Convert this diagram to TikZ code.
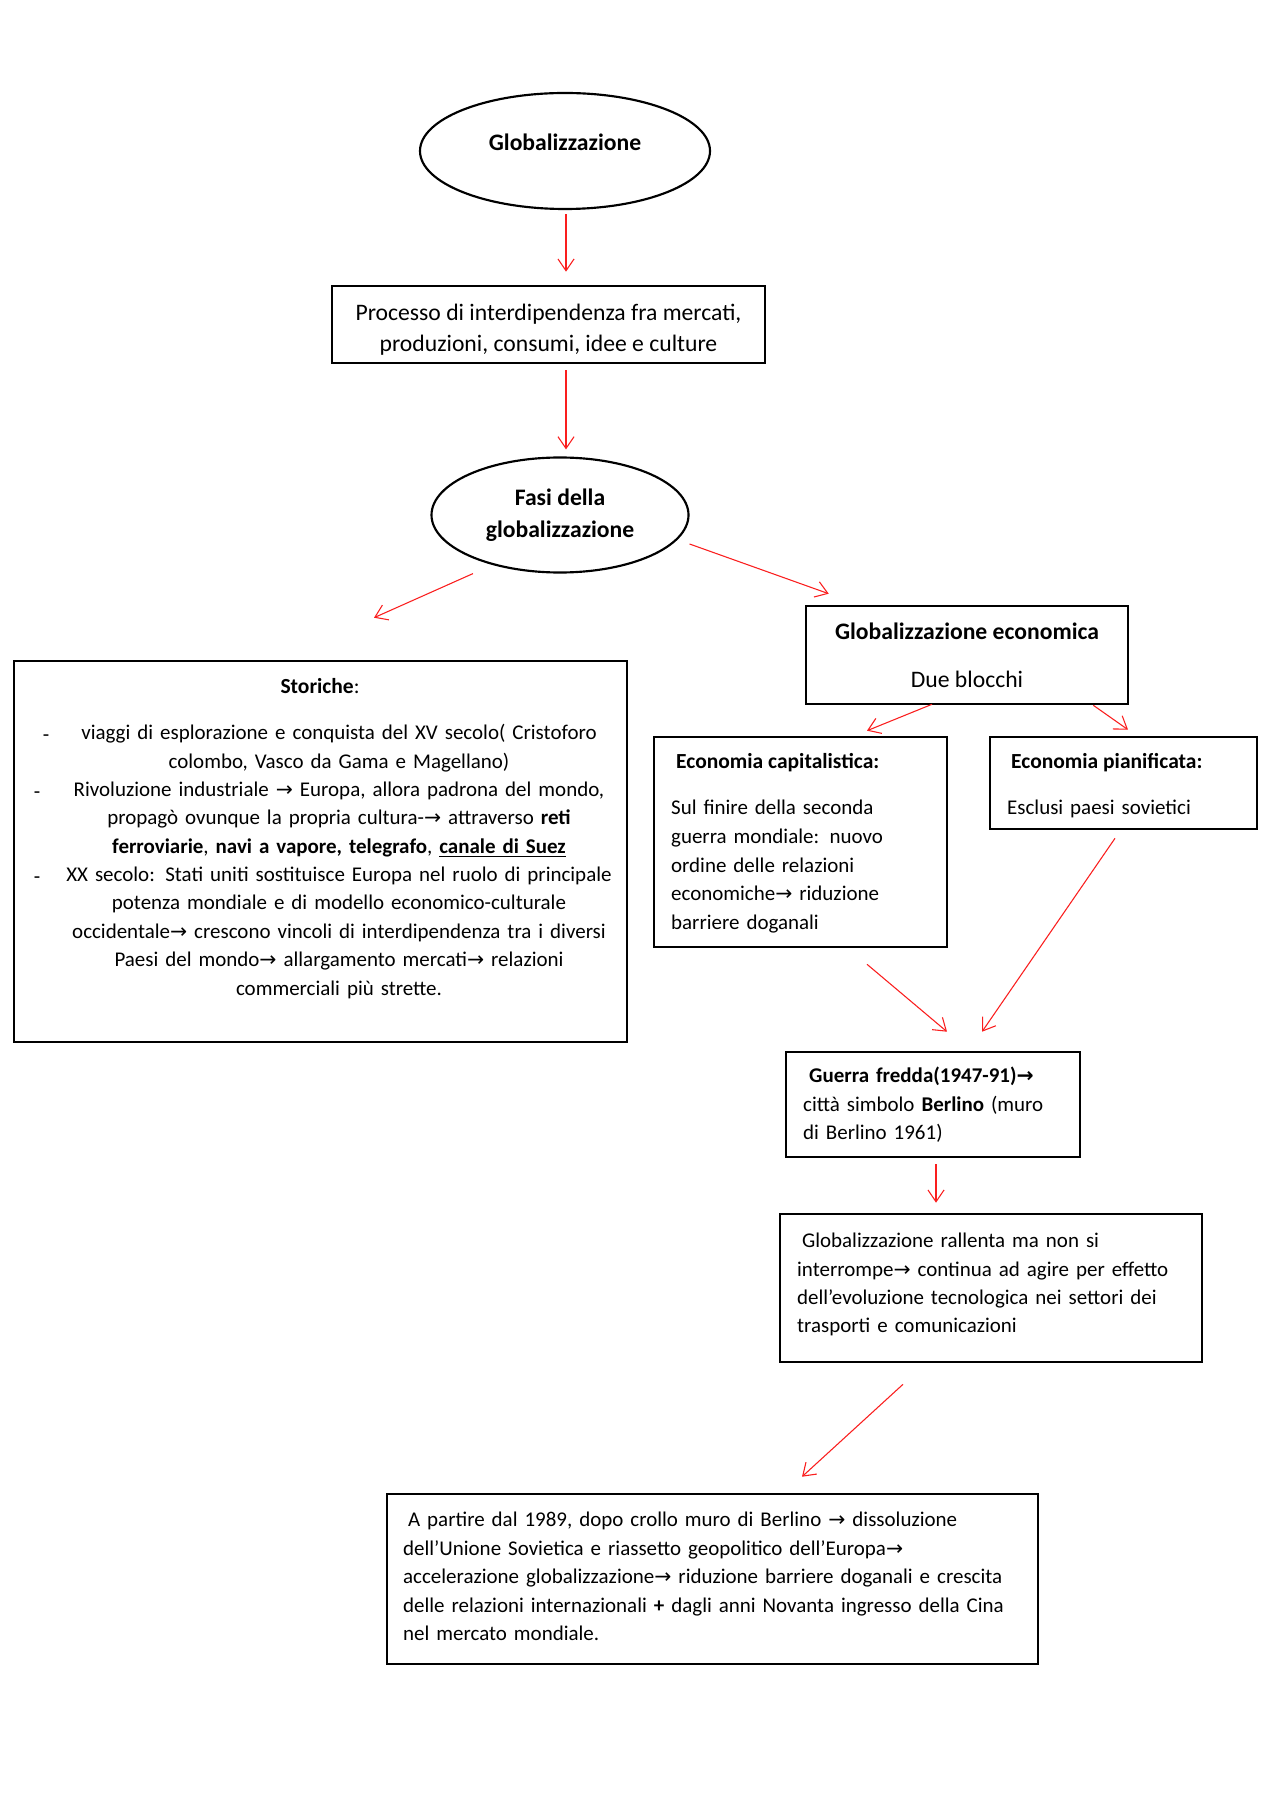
\documentclass[tikz,border=0pt]{standalone}
\usepackage{fontspec}
\setmainfont{Carlito}
\newfontfamily\arrowfont{DejaVu Sans}
\usetikzlibrary{arrows.meta,shapes.geometric,calc}
\newcommand{\px}{0.4651pt}
\newcommand{\freccia}{{\arrowfont\fontsize{9.5}{9.5}\selectfont →}}
\tikzset{
  map/.style={
    x=\px,
    y=-\px,
    font=\fontsize{9.75}{13.2}\selectfont
  },
  box-size/.style 2 args={minimum width=#1*\px, minimum height=#2*\px},
  box-outline/.style={rectangle, draw=black, line width=1.2pt, inner sep=0pt},
  oval-outline/.style={ellipse, draw=black, line width=1pt, inner sep=0pt},
  box-text/.style={inner sep=0pt, anchor=base west, align=left, text width=#1*\px},
  box-title/.style={inner sep=0pt, anchor=base west, font=\fontsize{10}{13.2}\selectfont\bfseries},
  arrow-red/.style={draw=arrowred, line width=0.5pt, -{Straight Barb[length=5.5pt,width=7.5pt]}}
}
\definecolor{arrowred}{RGB}{250,30,30}

\begin{document}
\begin{tikzpicture}[map]
  \useasboundingbox (0,0) rectangle (1280,1811);
  % Top of the map
  \node[oval-outline, box-size={290}{116}, font=\fontsize{11}{13.2}\selectfont\bfseries,
    text height=8pt, text depth=8pt] (glob) at (565,151) {Globalizzazione};
  \node[box-outline, box-size={433}{77}] (proc) at (548.5,324.5) {};
  \node[inner sep=0pt, align=center, font=\fontsize{11}{14.4}\selectfont] (proc-text) at ($(proc.center)+(0,5)$)
    {Processo di interdipendenza fra mercati,\\produzioni, consumi, idee e culture};
  \node[oval-outline, box-size={257}{115}, align=center, font=\fontsize{11}{15}\selectfont\bfseries]
    (fasi) at (560,515) {Fasi della\\globalizzazione};
  % Storiche
  \node[box-outline, box-size={613}{381}] (storiche) at (320.5,851.5) {};
  \node[inner sep=0pt, anchor=base] (storiche-title) at ($(storiche.north)+(-0.5,34)$)
    {\fontsize{10}{13.2}\selectfont\textbf{Storiche}:};
  \node[inner sep=0pt, anchor=base, align=center, text width=600*\px] (storiche-list) at ($(storiche.north)+(18.5,80)$) {%
    viaggi di esplorazione e conquista del XV secolo( Cristoforo\\
    colombo, Vasco da Gama e Magellano)\\
    Rivoluzione industriale \freccia{} Europa, allora padrona del mondo,\\
    propagò ovunque la propria cultura-\freccia{} attraverso \textbf{reti}\\
    \textbf{ferroviarie}, \textbf{navi a vapore, telegrafo}, \underline{\textbf{canale di Suez}}\\
    XX secolo: Stati uniti sostituisce Europa nel ruolo di principale\\
    potenza mondiale e di modello economico-culturale\\
    occidentale\freccia{} crescono vincoli di interdipendenza tra i diversi\\
    Paesi del mondo\freccia{} allargamento mercati\freccia{} relazioni\\
    commerciali più strette.};
  \foreach \x/\y [count=\i] in {46/741, 37/798, 37/883} {
    \node[inner sep=0pt, anchor=base] (dash-\i) at (\x,\y) {-};
  }
  % Globalizzazione economica
  \node[box-outline, box-size={322}{98}, align=center, font=\fontsize{11}{13.2}\selectfont] (econ) at (967,655)
    {\textbf{Globalizzazione economica}\\[9.1pt]Due blocchi};
  \node[box-outline, box-size={293}{210}] (cap) at (800.5,842) {};
  \node[box-title] (cap-title) at ($(cap.north west)+(23,33)$) {Economia capitalistica:};
  \node[box-text=270, font=\fontsize{9.75}{13.35}\selectfont] (cap-text) at ($(cap.north west)+(18,79)$) {%
    Sul finire della seconda\\guerra mondiale: nuovo\\ordine delle relazioni\\
    economiche\freccia{} riduzione\\barriere doganali};
  \node[box-outline, box-size={267}{92}] (pian) at (1123.5,783) {};
  \node[box-title] (pian-title) at ($(pian.north west)+(22,33)$) {Economia pianificata:};
  \node[box-text=240] (pian-text) at ($(pian.north west)+(18,79)$) {Esclusi paesi sovietici};
  % Guerra fredda e dopo
  \node[box-outline, box-size={294}{105}] (guerra) at (933,1104.5) {};
  \node[box-text=280, font=\fontsize{9.75}{13.25}\selectfont] (guerra-text) at ($(guerra.north west)+(18,32)$) {%
    \hspace*{2.8pt}\textbf{Guerra fredda(1947-91)\freccia}\\
    città simbolo \textbf{Berlino} (muro\\di Berlino 1961)};
  \node[box-outline, box-size={422}{148}] (rallenta) at (991,1288) {};
  \node[box-text=410] (rallenta-text) at ($(rallenta.north west)+(18,35)$) {%
    \hspace*{2.3pt}Globalizzazione rallenta ma non si\\
    interrompe\freccia{} continua ad agire per effetto\\
    dell’evoluzione tecnologica nei settori dei\\
    trasporti e comunicazioni};
  \node[box-outline, box-size={651}{170}] (finale) at (712.5,1579) {};
  \node[box-text=640, font=\fontsize{9.75}{13.25}\selectfont] (finale-text) at ($(finale.north west)+(17,34)$) {%
    \hspace*{2.3pt}A partire dal 1989, dopo crollo muro di Berlino \freccia{} dissoluzione\\
    dell’Unione Sovietica e riassetto geopolitico dell’Europa\freccia\\
    accelerazione globalizzazione\freccia{} riduzione barriere doganali e crescita\\
    delle relazioni internazionali \textbf{+} dagli anni Novanta ingresso della Cina\\
    nel mercato mondiale.};
  % Arrows
  \draw[arrow-red] ($(glob.south)+(1,4)$) -- ($(proc.north -| glob.south)+(1,-13)$);
  \draw[arrow-red] ($(proc.south -| glob.south)+(1,6)$) -- ($(fasi.north -| glob.south)+(1,-7)$);
  \draw[arrow-red] ($(fasi.south)+(-87,0)$) -- ($(storiche.north)+(53.5,-42)$);
  \draw[arrow-red] ($(fasi.east)+(0,29)$) -- ($(econ.north west)+(24,-11)$);
  \draw[arrow-red] ($(econ.south)+(-35,-1)$) -- ($(cap.north)+(66.5,-5)$);
  \draw[arrow-red] ($(econ.south east)+(-36,0)$) -- ($(pian.north)+(4.5,-6)$);
  \draw[arrow-red] ($(cap.south)+(66.5,16)$) -- ($(guerra.north)+(14,-19)$);
  \draw[arrow-red] ($(pian.south)+(-8.5,8)$) -- ($(guerra.north)+(49,-19)$);
  \draw[arrow-red] ($(guerra.south)+(3,6)$) -- ($(rallenta.north -| guerra.south)+(3,-10)$);
  \draw[arrow-red] ($(rallenta.south)+(-88,21)$) -- ($(finale.north)+(89.5,-16)$);
\end{tikzpicture}
\end{document}
